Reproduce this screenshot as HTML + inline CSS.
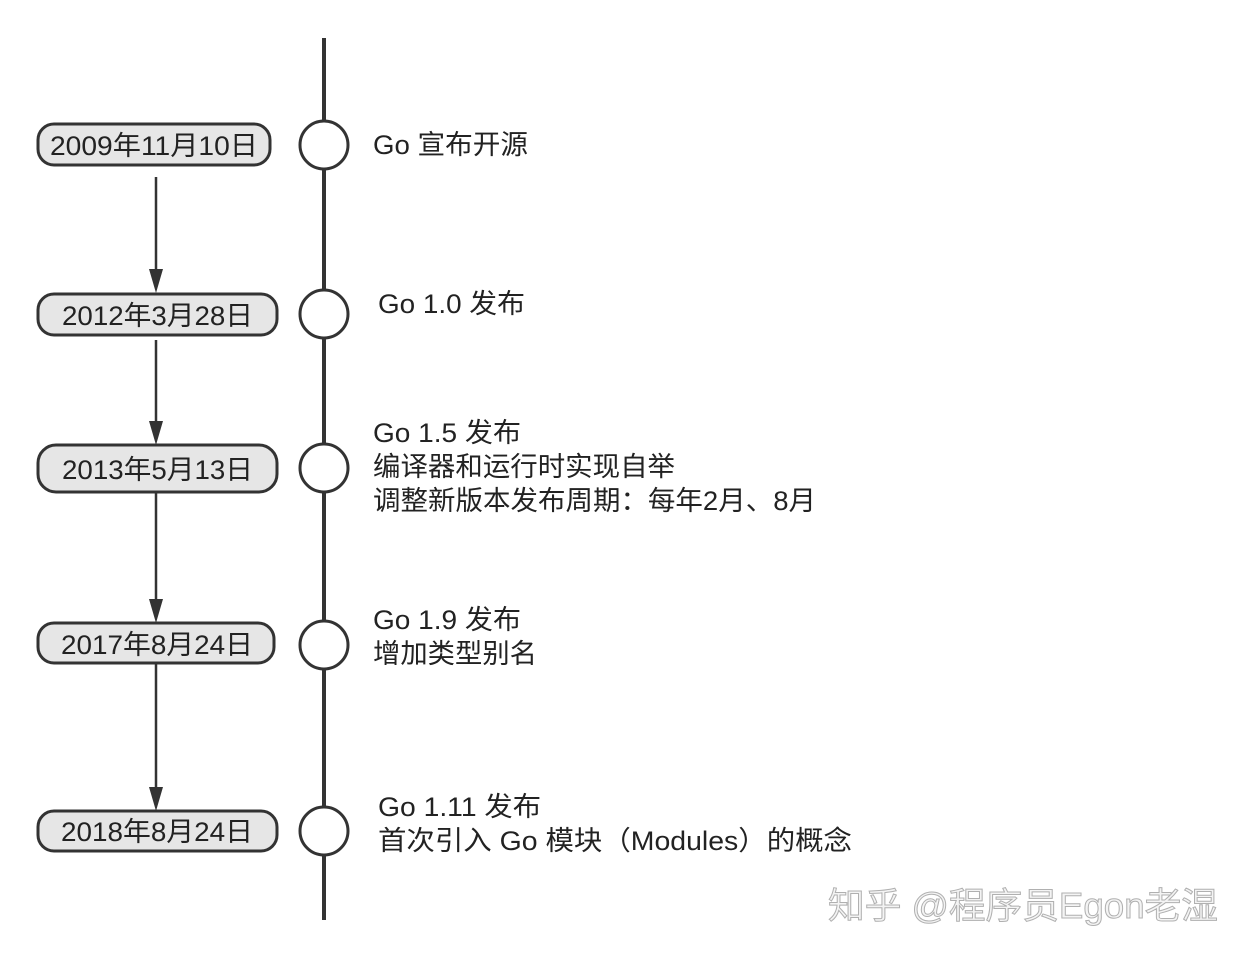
<!DOCTYPE html>
<html><head><meta charset="utf-8"><style>
html,body{margin:0;padding:0;background:#fff;}
svg text{font-family:"Liberation Sans","Noto Sans CJK SC",sans-serif;fill:#222;}
</style></head><body>
<svg width="1250" height="960" viewBox="0 0 1250 960" xmlns="http://www.w3.org/2000/svg">
<line x1="324" y1="38" x2="324" y2="920" stroke="#333" stroke-width="4"/>
<g fill="#fff" stroke="#333" stroke-width="3">
<circle cx="324" cy="145" r="24"/><circle cx="324" cy="314" r="24"/><circle cx="324" cy="468" r="24"/><circle cx="324" cy="645" r="24"/><circle cx="324" cy="831" r="24"/>
</g>
<g fill="#e6e6e6" stroke="#333" stroke-width="3">
<rect x="38" y="124" width="232" height="41" rx="16"/>
<rect x="38" y="294" width="239" height="41" rx="16"/>
<rect x="38" y="445" width="239" height="47" rx="18"/>
<rect x="38" y="623" width="236" height="40" rx="16"/>
<rect x="38" y="811" width="239" height="40" rx="16"/>
</g>
<g stroke="#333" stroke-width="2.5">
<line x1="156" y1="177" x2="156" y2="272"/>
<line x1="156" y1="340" x2="156" y2="424"/>
<line x1="156" y1="492" x2="156" y2="602"/>
<line x1="156" y1="663" x2="156" y2="790"/>
</g>
<g fill="#333">
<polygon points="149,269 163,269 156,293"/>
<polygon points="149,421 163,421 156,445"/>
<polygon points="149,599 163,599 156,623"/>
<polygon points="149,787 163,787 156,811"/>
</g>
<g font-size="27" lengthAdjust="spacingAndGlyphs">
<text x="50" y="155" textLength="208" lengthAdjust="spacingAndGlyphs">2009年11月10日</text>
<text x="62" y="325" textLength="191" lengthAdjust="spacingAndGlyphs">2012年3月28日</text>
<text x="62" y="479" textLength="191" lengthAdjust="spacingAndGlyphs">2013年5月13日</text>
<text x="61" y="654" textLength="192" lengthAdjust="spacingAndGlyphs">2017年8月24日</text>
<text x="61" y="841" textLength="192" lengthAdjust="spacingAndGlyphs">2018年8月24日</text>
</g>
<g font-size="27">
<text x="373" y="154" textLength="155" lengthAdjust="spacingAndGlyphs">Go 宣布开源</text>
<text x="378" y="313" textLength="147" lengthAdjust="spacingAndGlyphs">Go 1.0 发布</text>
<text x="373" y="442" textLength="148" lengthAdjust="spacingAndGlyphs">Go 1.5 发布</text>
<text x="373" y="476" textLength="302" lengthAdjust="spacingAndGlyphs">编译器和运行时实现自举</text>
<text x="373" y="510" textLength="443" lengthAdjust="spacingAndGlyphs">调整新版本发布周期：每年2月、8月</text>
<text x="373" y="629" textLength="148" lengthAdjust="spacingAndGlyphs">Go 1.9 发布</text>
<text x="373" y="663" textLength="164" lengthAdjust="spacingAndGlyphs">增加类型别名</text>
<text x="378" y="816" textLength="163" lengthAdjust="spacingAndGlyphs">Go 1.11 发布</text>
<text x="378" y="850" textLength="474" lengthAdjust="spacingAndGlyphs">首次引入 Go 模块（Modules）的概念</text>
</g>
<text x="828" y="918" font-size="36" textLength="390" lengthAdjust="spacingAndGlyphs" style="fill:#f4f4f4;stroke:#b0b0b0;stroke-width:1;">知乎 @程序员Egon老湿</text>
</svg>
</body></html>
